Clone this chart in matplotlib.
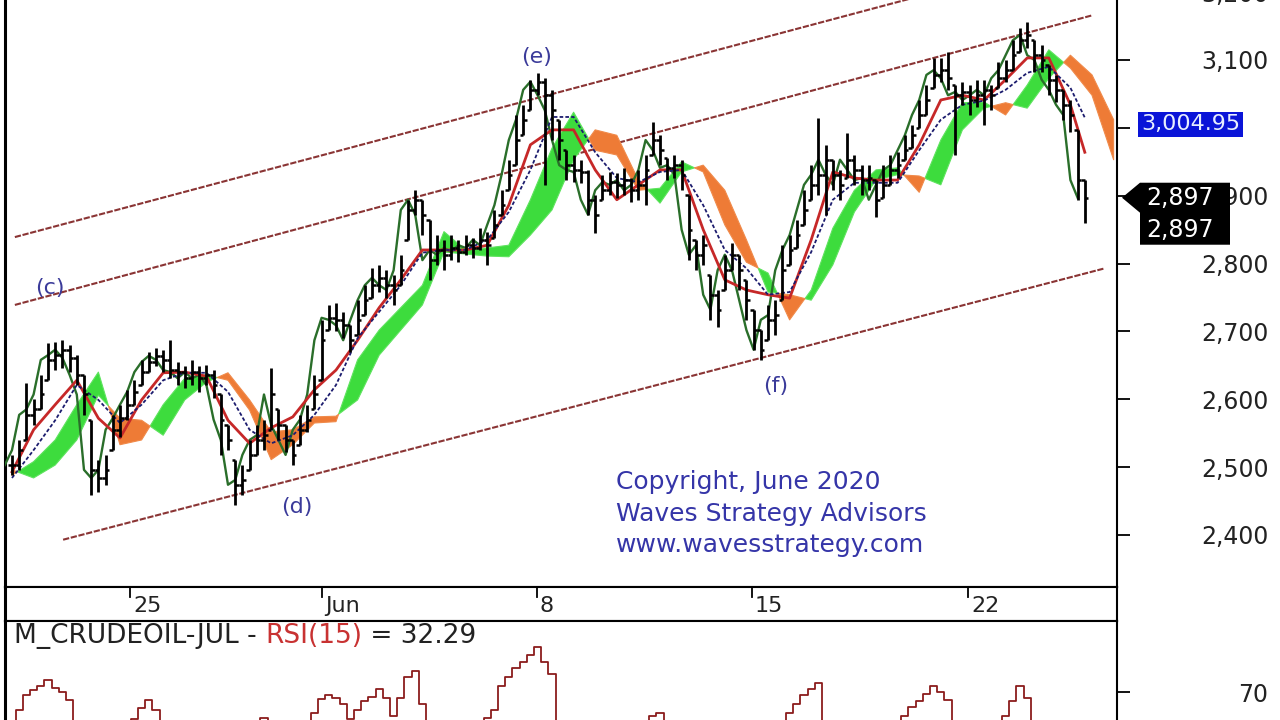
import numpy as np
import matplotlib
matplotlib.use('Agg')
import matplotlib.pyplot as plt
from matplotlib.patches import Polygon
from matplotlib.offsetbox import TextArea, HPacker, AnchoredOffsetbox

plt.rcParams['font.family'] = ['DejaVu Sans']

# ===============================
# Data (hourly-ish bars)
# ===============================
closes = [2503, 2525, 2577, 2585, 2607, 2658, 2665, 2673, 2661, 2636,
          2607, 2496, 2484, 2496, 2555, 2572, 2592, 2611, 2640, 2655,
          2664, 2658, 2643, 2640, 2631, 2640, 2631, 2636, 2621, 2570,
          2540, 2474, 2481, 2518, 2540, 2547, 2607, 2562, 2540, 2518,
          2555, 2570, 2607, 2687, 2720, 2717, 2709, 2687, 2717, 2746,
          2768, 2779, 2768, 2761, 2790, 2879, 2894, 2872, 2805, 2820,
          2813, 2823, 2817, 2827, 2823, 2835, 2827, 2857, 2886, 2931,
          2982, 3012, 3056, 3068, 3048, 3026, 2982, 2945, 2938, 2935,
          2894, 2872, 2908, 2920, 2916, 2923, 2908, 2916, 2938, 2982,
          2967, 2941, 2945, 2931, 2850, 2813, 2827, 2754, 2732, 2790,
          2813, 2790, 2746, 2702, 2673, 2717, 2724, 2790, 2820, 2842,
          2879, 2916, 2931, 2953, 2931, 2916, 2953, 2938, 2923, 2926,
          2894, 2916, 2938, 2945, 2967, 2989, 3019, 3041, 3078, 3085,
          3073, 3048, 3053, 3041, 3048, 3056, 3048, 3073, 3085, 3107,
          3129, 3137, 3107, 3100, 3071, 3056, 3034, 3019, 2923, 2897]

highs = [2518, 2540, 2624, 2600, 2636, 2683, 2684, 2687, 2680, 2665,
         2636, 2570, 2511, 2518, 2577, 2592, 2614, 2628, 2658, 2670,
         2676, 2673, 2687, 2655, 2649, 2658, 2649, 2651, 2643, 2607,
         2562, 2511, 2503, 2540, 2562, 2570, 2646, 2585, 2562, 2540,
         2577, 2592, 2636, 2717, 2739, 2742, 2729, 2709, 2746, 2768,
         2793, 2798, 2790, 2783, 2813, 2894, 2908, 2894, 2864, 2842,
         2835, 2842, 2835, 2842, 2838, 2852, 2846, 2879, 2908, 2953,
         3019, 3034, 3071, 3081, 3073, 3056, 3012, 2967, 2960, 2953,
         2938, 2901, 2931, 2935, 2933, 2941, 2926, 2938, 2960, 3009,
         2989, 2956, 2960, 2953, 2901, 2835, 2842, 2783, 2761, 2813,
         2830, 2813, 2776, 2732, 2702, 2739, 2746, 2827, 2842, 2864,
         2908, 2945, 3015, 2975, 2953, 2938, 2992, 2960, 2945, 2945,
         2923, 2945, 2960, 2964, 2989, 3004, 3041, 3063, 3103, 3103,
         3112, 3063, 3068, 3063, 3071, 3071, 3063, 3097, 3100, 3129,
         3147, 3156, 3129, 3122, 3093, 3078, 3056, 3041, 2997, 2923]

lows = [2489, 2496, 2540, 2562, 2585, 2628, 2643, 2646, 2640, 2621,
        2577, 2459, 2463, 2474, 2525, 2544, 2570, 2592, 2621, 2640,
        2649, 2640, 2631, 2621, 2617, 2621, 2611, 2621, 2602, 2518,
        2525, 2444, 2459, 2496, 2518, 2525, 2555, 2540, 2522, 2503,
        2533, 2552, 2585, 2628, 2702, 2700, 2690, 2670, 2695, 2724,
        2749, 2758, 2749, 2739, 2768, 2835, 2872, 2842, 2776, 2798,
        2790, 2805, 2802, 2813, 2808, 2820, 2798, 2838, 2872, 2908,
        2945, 2989, 3026, 3048, 2916, 2982, 2953, 2923, 2920, 2919,
        2872, 2845, 2894, 2901, 2897, 2901, 2891, 2894, 2886, 2960,
        2945, 2923, 2926, 2908, 2805, 2790, 2798, 2717, 2707, 2761,
        2790, 2761, 2717, 2673, 2658, 2687, 2695, 2746, 2798, 2823,
        2857, 2894, 2901, 2872, 2908, 2894, 2926, 2916, 2901, 2908,
        2869, 2897, 2916, 2926, 2953, 2970, 3000, 3019, 3059, 3068,
        3056, 2960, 3034, 3019, 3031, 3004, 3026, 3059, 3068, 3085,
        3112, 3118, 3082, 3082, 3048, 3038, 3012, 2994, 2894, 2860]

# moving-average style lines (every 3rd bar + last bar)
line_bars = list(range(0, 148, 3)) + [149]
red_line = [2493, 2555, 2592, 2628, 2572, 2543, 2599, 2639, 2640, 2634,
            2569, 2535, 2558, 2574, 2614, 2643, 2687, 2735, 2776, 2820,
            2820, 2820, 2827, 2886, 2975, 2997, 2997, 2938, 2894, 2916,
            2938, 2938, 2850, 2776, 2761, 2754, 2749, 2835, 2935, 2926,
            2923, 2923, 2975, 3041, 3048, 3041, 3071, 3103, 3103, 3034,
            2964]
navy_line = [2484, 2525, 2569, 2621, 2599, 2565, 2592, 2628, 2639, 2639,
             2611, 2555, 2535, 2547, 2577, 2621, 2690, 2729, 2768, 2816,
             2820, 2820, 2835, 2876, 2938, 3016, 3016, 2964, 2926, 2920,
             2935, 2938, 2886, 2820, 2793, 2754, 2758, 2817, 2894, 2919,
             2919, 2919, 2967, 3012, 3034, 3040, 3056, 3081, 3090, 3059,
             3015]

# cloud spans (every 3rd bar, runs a little past the last bar)
cloud_bars = list(range(0, 154, 3))
span_a = [2488, 2508, 2540, 2592, 2640, 2533, 2540, 2592, 2631, 2636,
          2628, 2584, 2511, 2533, 2565, 2567, 2658, 2702, 2735, 2768,
          2847, 2820, 2823, 2827, 2894, 2970, 3023, 2967, 2960, 2908,
          2911, 2950, 2935, 2857, 2802, 2786, 2717, 2761, 2852, 2908,
          2938, 2941, 2905, 2982, 3037, 3038, 3019, 3063, 3115, 3088,
          3048, 2953]
span_b = [2496, 2484, 2503, 2540, 2606, 2572, 2569, 2547, 2599, 2625,
          2639, 2599, 2552, 2555, 2574, 2575, 2599, 2665, 2702, 2739,
          2817, 2814, 2811, 2810, 2842, 2879, 2953, 2997, 2989, 2923,
          2889, 2935, 2945, 2908, 2835, 2758, 2754, 2746, 2798, 2876,
          2923, 2931, 2929, 2916, 2997, 3029, 3037, 3029, 3073, 3107,
          3078, 3012]

rsi = [58, 64, 69, 70.7, 72, 74, 71.3, 70, 67.3, 57,
       50, 42, 40, 44, 50, 54, 57, 61, 64.7, 67.3,
       64, 57, 56, 54, 52, 50, 48, 47, 44, 40,
       38, 35, 40, 46, 52, 61.3, 60, 52, 48, 45,
       52, 58, 63, 67.7, 69, 68, 66, 61, 64, 67,
       68.5, 71, 68, 62, 68, 75, 77, 66, 55, 56,
       55, 57, 56, 58, 57, 59, 61.5, 64, 72, 75,
       78, 80, 82.5, 85, 80, 76, 58, 52, 50, 49,
       45, 42, 46, 48, 47, 49, 47, 49, 53, 62,
       63, 56, 55, 52, 40, 35, 38, 30, 27, 38,
       42, 38, 32, 27, 24, 33, 35, 47, 63, 66,
       69, 71, 73, 60, 58, 56, 60, 57, 55, 55,
       50, 53, 56, 59, 62, 65, 67, 69.5, 72, 70,
       67.5, 57, 58, 55, 56, 57, 56, 60, 62, 67,
       72, 68, 58, 56, 50, 47, 43, 40, 33, 32.29]

date_labels = ['25', 'Jun', '8', '15', '22']
date_bars = [16.4, 43.1, 72.9, 102.8, 132.8]

price_ticks = [2400, 2500, 2600, 2700, 2800, 2900, 3000, 3100, 3200]
rsi_ticks = [70]

wave_labels = ['(c)', '(d)', '(e)', '(f)']
wave_bars = [5.3, 39.6, 72.9, 106.0]
wave_prices = [2764, 2441, 3104, 2620]

# channel lines (two anchor points each)
channel_bars = [0.4, 150.1]
channel_upper = [2839, 3262]
channel_mid = [2739, 3166]
lower_bars = [7.1, 151.8]
channel_lower = [2393, 2793]

last_price = 2897
ref_price = 3004.95
rsi_last = 32.29

copyright_lines = ['Copyright, June 2020', 'Waves Strategy Advisors',
                   'www.wavesstrategy.com']

# ===============================
# Layout
# ===============================
W, H = 1280, 720
fig = plt.figure(figsize=(W / 100, H / 100), dpi=100)


def rect(x0, y0, x1, y1):
    # pixel box (top-left origin) -> figure fraction
    return [x0 / W, (H - y1) / H, (x1 - x0) / W, (y1 - y0) / H]


ax = fig.add_axes(rect(5, -30, 1117, 587))
ax_d = fig.add_axes(rect(5, 587, 1117, 621))
ax_r = fig.add_axes(rect(5, 621, 1117, 780))

XLIM = (-0.97, 153.47)
for a in (ax, ax_d, ax_r):
    a.set_xticks([])
    a.set_xlim(*XLIM)
    for s in a.spines.values():
        s.set_linewidth(1.5)
        s.set_color('black')
    a.spines['left'].set_linewidth(2.2)

ax.spines['top'].set_visible(False)

idx = np.arange(len(closes))

# cloud
cb = np.array(cloud_bars)
sa = np.array(span_a, dtype=float)
sb = np.array(span_b, dtype=float)
ax.fill_between(cb, sa, sb, where=sa >= sb, interpolate=True,
                color='#3ddc3d', lw=0.8, ec='#5fe35f', zorder=2)
ax.fill_between(cb, sa, sb, where=sa < sb, interpolate=True,
                color='#ee7b36', lw=0.8, ec='#f08a4a', zorder=2)

# channel
ch_style = dict(color='#8a3434', lw=1.5, ls=(0, (3, 0.8)), zorder=1)
ax.plot(channel_bars, channel_upper, **ch_style)
ax.plot(channel_bars, channel_mid, **ch_style)
ax.plot(lower_bars, channel_lower, **ch_style)

# lines
ax.plot(idx - 1, closes, color='#2a6e2a', lw=1.7, zorder=3)
ax.plot(line_bars, red_line, color='#c62828', lw=2.0, zorder=4)
ax.plot(line_bars, navy_line, color='#1c1c6e', lw=1.3, ls=(0, (2, 1.2)), zorder=4)

# price bars
opens = np.clip([closes[0]] + closes[:-1], lows, highs)
ax.vlines(idx, lows, highs, color='black', lw=2.0, zorder=5)
ax.hlines(closes, idx, idx + 0.5, color='black', lw=1.8, zorder=5)
ax.hlines(opens, idx - 0.5, idx, color='black', lw=1.8, zorder=5)

# wave labels
for lab, b, p in zip(wave_labels, wave_bars, wave_prices):
    ax.text(b, p, lab, color='#3b3b9a', fontsize=16, ha='center', va='center')

# copyright
for k, line in enumerate(copyright_lines):
    ax.text(0.5495, 0.1702 - k * 0.0511, line, transform=ax.transAxes,
            color='#3535a8', fontsize=18, va='center', ha='left')

# price axis on the right
ax.yaxis.tick_right()
ax.set_yticks(price_ticks)
ax.set_yticklabels(['' if p == 3000 else f'{p:,}' for p in price_ticks])
ax.set_ylim(2323.3, 3232.6)
ax.tick_params(axis='y', direction='out', length=9, width=1.3,
               pad=100, labelsize=17, labelcolor='#222222')
for t in ax.get_yticklabels():
    t.set_ha('right')

# date strip
ax_d.set_yticks([])
ax_d.set_ylim(0, 1)
for b, lab in zip(date_bars, date_labels):
    ax_d.plot([b, b], [1, 0.7], color='black', lw=1.3)
    ax_d.text(b + 0.4, 0.45, lab, fontsize=16, ha='left', va='center', color='#222222')

# RSI panel
ax_r.step(idx, rsi, where='mid', color='#8b1c1c', lw=1.3)
ax_r.yaxis.tick_right()
ax_r.set_yticks(rsi_ticks)
ax_r.set_ylim(40.67, 93.67)
ax_r.tick_params(axis='y', direction='out', length=9, width=1.3,
                 pad=100, labelsize=17, labelcolor='#222222')
for t in ax_r.get_yticklabels():
    t.set_ha('right')

parts = [TextArea('M_CRUDEOIL-JUL - ', textprops=dict(color='#222222', fontsize=19)),
         TextArea('RSI(15)', textprops=dict(color='#c83232', fontsize=19)),
         TextArea(f' = {rsi_last:.2f}', textprops=dict(color='#222222', fontsize=19))]
box = HPacker(children=parts, align='baseline', pad=0, sep=0)
anch = AnchoredOffsetbox(loc='upper left', child=box, pad=0, borderpad=0, frameon=False,
                         bbox_to_anchor=(0.008, 0.985), bbox_transform=ax_r.transAxes)
ax_r.add_artist(anch)

# right-margin price flags
ov = fig.add_axes([0, 0, 1, 1], zorder=10)
ov.set_xlim(0, W)
ov.set_ylim(H, 0)
ov.axis('off')


def py(price):
    return H - ax.transData.transform((0, price))[1]


y_ref = py(ref_price)
ov.text(1141, y_ref, f'{ref_price:,.2f}', color='#e8eeff', fontsize=16,
        va='center', ha='left',
        bbox=dict(boxstyle='square,pad=0.12', fc='#0a14d8', ec='none'))

y0 = py(last_price)
ov.add_patch(Polygon([(1122, y0), (1140, y0 - 15), (1230, y0 - 15), (1230, y0 + 47),
                      (1140, y0 + 47), (1140, y0 + 15)], closed=True, fc='black', ec='none'))
ov.text(1146, y0, f'{last_price:,}', color='white', fontsize=17, va='center', ha='left')
ov.text(1146, y0 + 32, f'{last_price:,}', color='white', fontsize=17, va='center', ha='left')

fig.savefig('out.png', dpi=100)
